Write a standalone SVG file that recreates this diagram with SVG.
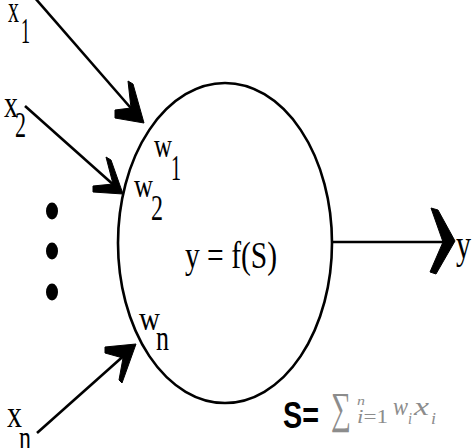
<svg xmlns="http://www.w3.org/2000/svg" width="474" height="448" viewBox="0 0 474 448">
<style>
.t{font-family:"Liberation Serif","Times New Roman",serif;fill:#000}
.g{font-family:"Liberation Serif","DejaVu Serif",serif;fill:#8c8c8c;font-style:italic}
.sb{font-family:"Liberation Sans",Arial,sans-serif;font-weight:bold;fill:#000}
.ln{stroke:#000;stroke-width:2.6;fill:none}
.ah{fill:#000;stroke:#000;stroke-width:1}
</style>
<rect width="474" height="448" fill="#fff"/>
<g id="neuron">
<ellipse cx="225" cy="243" rx="107" ry="160" fill="none" stroke="#000" stroke-width="2.6"/>
<text class="t" x="154" y="157" font-size="34" textLength="18" lengthAdjust="spacingAndGlyphs">w</text>
<text class="t" x="171" y="180" font-size="36" textLength="10" lengthAdjust="spacingAndGlyphs">1</text>
<text class="t" x="134" y="197" font-size="34" textLength="19" lengthAdjust="spacingAndGlyphs">w</text>
<text class="t" x="151" y="220" font-size="36" textLength="12" lengthAdjust="spacingAndGlyphs">2</text>
<text class="t" x="139" y="330" font-size="34" textLength="21" lengthAdjust="spacingAndGlyphs">w</text>
<text class="t" x="156" y="350" font-size="36" textLength="13" lengthAdjust="spacingAndGlyphs">n</text>
<text class="t" x="185" y="268" font-size="38" textLength="92" lengthAdjust="spacingAndGlyphs">y = f(S)</text>
</g>
<g id="input-x1">
<text class="t" x="8" y="22" font-size="38" textLength="11" lengthAdjust="spacingAndGlyphs">x</text>
<text class="t" x="21" y="43" font-size="36" textLength="9" lengthAdjust="spacingAndGlyphs">1</text>
</g>
<g id="input-x2">
<text class="t" x="4" y="117" font-size="38" textLength="14" lengthAdjust="spacingAndGlyphs">x</text>
<text class="t" x="15" y="137" font-size="36" textLength="11" lengthAdjust="spacingAndGlyphs">2</text>
</g>
<g id="dots">
<ellipse cx="52" cy="211" rx="6" ry="8.5" fill="#000"/>
<ellipse cx="52" cy="251" rx="6" ry="8.5" fill="#000"/>
<ellipse cx="52" cy="292" rx="6" ry="8.5" fill="#000"/>
</g>
<g id="input-xn">
<text class="t" x="7" y="427" font-size="38" textLength="15" lengthAdjust="spacingAndGlyphs">x</text>
<text class="t" x="19" y="450" font-size="36" textLength="12" lengthAdjust="spacingAndGlyphs">n</text>
</g>
<g id="output-y">
<text class="t" x="456" y="258" font-size="40" textLength="15" lengthAdjust="spacingAndGlyphs">y</text>
</g>
<g id="formula">
<text class="sb" x="283" y="428" font-size="36" textLength="36" lengthAdjust="spacingAndGlyphs">S=</text>
<text class="g" x="331" y="423" font-size="44" font-style="normal" textLength="20" lengthAdjust="spacingAndGlyphs">∑</text>
<text class="g" x="357" y="405" font-size="13" textLength="8" lengthAdjust="spacingAndGlyphs">n</text>
<text class="g" x="357" y="423" font-size="19" textLength="31" lengthAdjust="spacingAndGlyphs">i<tspan font-style="normal">=1</tspan></text>
<text class="g" x="393" y="415" font-size="26" textLength="15" lengthAdjust="spacingAndGlyphs">w</text>
<text class="g" x="408" y="424" font-size="16" textLength="4" lengthAdjust="spacingAndGlyphs">i</text>
<text class="g" x="414" y="415" font-size="26" textLength="15" lengthAdjust="spacingAndGlyphs">x</text>
<text class="g" x="431" y="424" font-size="16" textLength="5" lengthAdjust="spacingAndGlyphs">i</text>
</g>
<g id="connectors">
<line class="ln" x1="35" y1="-2" x2="136" y2="114"/>
<polygon class="ah" points="128,81 133,84 144,123 115,118 115,110 131,108"/>
<line class="ln" x1="25" y1="106" x2="116" y2="187"/>
<polygon class="ah" points="106,157 111,160 123,194 93,192 93,186 113,184"/>
<line class="ln" x1="37" y1="433" x2="128" y2="352"/>
<polygon class="ah" points="136,344 122,383 119,380 123,358 105,353 105,347"/>
<line class="ln" x1="332" y1="242" x2="446" y2="242"/>
<polygon class="ah" points="431,208 438,210 455,241 436,274 430,272 443,242"/>
</g>
</svg>
